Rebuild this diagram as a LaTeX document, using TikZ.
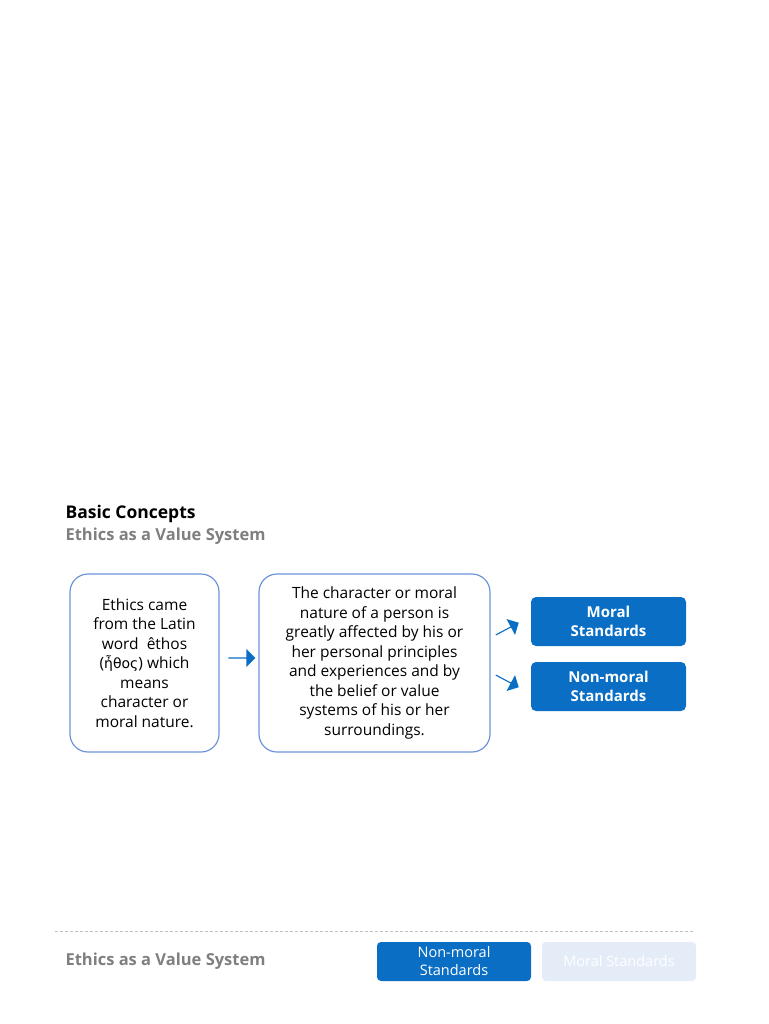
\documentclass[tikz,border=0pt]{standalone}
\usepackage{fontspec}
\setmainfont{Open Sans}
\newfontfamily\greekfont{DejaVu Sans}
\usetikzlibrary{arrows.meta,shapes.arrows}
\definecolor{blu}{HTML}{0A6FC4}
\definecolor{bord}{HTML}{6F93DA}
\definecolor{pale}{HTML}{E3ECF7}
\definecolor{gry}{HTML}{7F7F7F}
\tikzset{
  txtbox/.style={draw=bord,line width=1.2pt,rounded corners=18pt,align=center,font=\fontsize{15.5}{19.5}\selectfont,inner sep=0pt},
  stdbox/.style={fill=blu,rounded corners=5pt,text=white,align=center,font=\fontsize{15}{19}\selectfont\bfseries},
  blockarrow/.style={single arrow,fill=blu,minimum height=27pt,minimum width=18pt,single arrow head extend=3pt,inner sep=0pt,anchor=center},
}
\begin{document}
\begin{tikzpicture}[x=1pt,y=-1pt]
\useasboundingbox (0,0) rectangle (768,1024);
\node[anchor=west,font=\fontsize{17.5}{20}\selectfont\bfseries] (title) at (62,514) {Basic Concepts};
\node[anchor=west,font=\fontsize{16.5}{20}\selectfont\bfseries,text=gry] (sub) at (62,536) {Ethics as a Value System};
\node[txtbox,minimum width=149pt,minimum height=178pt] (b1) at (144.5,663) {Ethics came\\from the Latin\\word~ êthos\\({\greekfont\fontsize{14}{19.5}\selectfont ἦθος}) which\\means\\character or\\moral nature.};
\node[txtbox,minimum width=231pt,minimum height=178pt] (b2) at (374.5,663) {The character or moral\\nature of a person is\\greatly affected by his or\\her personal principles\\and experiences and by\\the belief or value\\systems of his or her\\surroundings.};
\node[stdbox,minimum width=155pt,minimum height=49pt] (m) at (608.5,621.5) {Moral\\Standards};
\node[stdbox,minimum width=155pt,minimum height=49pt] (n) at (608.5,686.5) {Non-moral\\Standards};
\node[blockarrow] (a1) at (241.5,658) {};
\node[blockarrow,minimum height=26pt,rotate=28] (a2) at (507,629) {};
\node[blockarrow,minimum height=26pt,rotate=-28] (a3) at (507,681) {};
\coordinate (l1) at (55,931); \coordinate (l2) at (693,931);
\draw[gry!50,densely dashed,line width=0.5pt] (l1) -- (l2);
\node[anchor=west,font=\fontsize{16.5}{20}\selectfont\bfseries,text=gry] (foot) at (62,961) {Ethics as a Value System};
\node[fill=blu,rounded corners=4pt,minimum width=154pt,minimum height=39pt,text=white,align=center,font=\fontsize{14.5}{18}\selectfont] (fb1) at (454,961.5) {Non-moral\\Standards};
\node[fill=pale,rounded corners=4pt,minimum width=154pt,minimum height=39pt,text=white,font=\fontsize{14.5}{18}\selectfont] (fb2) at (619,961.5) {Moral Standards};
\end{tikzpicture}
\end{document}
